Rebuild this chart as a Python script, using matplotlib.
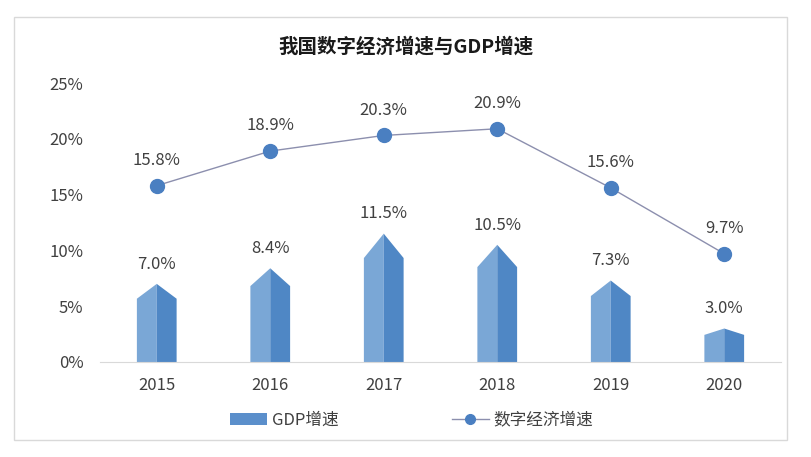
import matplotlib.pyplot as plt
import numpy as np
from matplotlib.patches import Polygon, Rectangle
from matplotlib.lines import Line2D

plt.rcParams['font.family'] = ['Noto Sans CJK SC', 'DejaVu Sans']

years = ['2015', '2016', '2017', '2018', '2019', '2020']
gdp = [7.0, 8.4, 11.5, 10.5, 7.3, 3.0]
digital = [15.8, 18.9, 20.3, 20.9, 15.6, 9.7]

text_c = '#404040'
light = '#7aa7d6'
dark = '#4f87c5'

fig = plt.figure(figsize=(8.12, 4.57), dpi=100)
ax = fig.add_axes([100 / 812, 95 / 457, 681 / 812, 279 / 457])

# outer frame
fig.patches.append(Rectangle((14 / 812, 17 / 457), 773 / 812, 423 / 457,
                             transform=fig.transFigure, fill=False,
                             edgecolor='#d9d9d9', lw=1))

x = np.arange(len(years))
w = 0.35
for xi, v in zip(x, gdp):
    sh = v * 0.81
    ax.add_patch(Polygon([(xi - w / 2, 0), (xi - w / 2, sh), (xi, v), (xi, 0)],
                         closed=True, facecolor=light, edgecolor='none'))
    ax.add_patch(Polygon([(xi, 0), (xi, v), (xi + w / 2, sh), (xi + w / 2, 0)],
                         closed=True, facecolor=dark, edgecolor='none'))
    ax.text(xi, v + 1.0, f'{v:.1f}%', ha='center', va='bottom',
            fontsize=12, color=text_c)

ax.plot(x, digital, color='#8c8fae', lw=1, marker='o', ms=10,
        markerfacecolor='#4a7fc1', markeredgecolor='#4a7fc1', zorder=3)
for xi, v in zip(x, digital):
    ax.text(xi, v + 1.5, f'{v:.1f}%', ha='center', va='bottom',
            fontsize=12, color=text_c)

ax.set_xlim(-0.5, len(years) - 0.5)
ax.set_ylim(0, 25)
ax.set_xticks(x)
ax.set_xticklabels(years, fontsize=12, color=text_c)
ax.set_yticks(range(0, 26, 5))
ax.set_yticklabels([f'{t}%' for t in range(0, 26, 5)], fontsize=12, color=text_c)
ax.tick_params(length=0, pad=11)
ax.tick_params(axis='y', pad=12)
for s in ['top', 'right', 'left']:
    ax.spines[s].set_visible(False)
ax.spines['bottom'].set_color('#d9d9d9')

fig.text(0.5, 1 - 47 / 457, '我国数字经济增速与GDP增速', ha='center', va='center',
         fontsize=14, fontweight='bold', color='#1a1a1a')

handles = [Rectangle((0, 0), 1, 1, facecolor='#5b8fcb', edgecolor='none'),
           Line2D([], [], color='#8c8fae', lw=1, marker='o', ms=7,
                  markerfacecolor='#4a7fc1', markeredgecolor='#4a7fc1')]
fig.legend(handles, ['GDP增速', '数字经济增速'], loc='center',
           bbox_to_anchor=(412 / 812, 1 - 420 / 457), ncol=2, frameon=False,
           fontsize=12, columnspacing=6.8, handlelength=2.2, handletextpad=0.3,
           labelcolor=text_c)

fig.savefig('out.png', dpi=100)
